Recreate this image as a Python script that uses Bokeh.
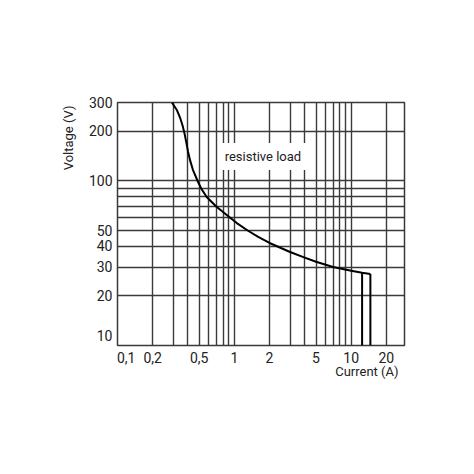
from bokeh.plotting import figure
from bokeh.models import FixedTicker, CustomJSTickFormatter, Label, Title
from bokeh.embed import file_html
from bokeh.resources import INLINE

# Data
current = [0.292, 0.323, 0.345, 0.362, 0.376, 0.389, 0.402, 0.42, 0.442, 0.485, 0.52, 0.58, 0.70, 0.85,
           1.05, 1.3, 1.6, 2.0, 3.0, 4.0, 5.0, 7.0, 10.0, 12.4, 14.6]
voltage = [300, 269, 240, 215, 192, 170, 150, 132, 117, 100, 90, 80, 70, 62.5,
           55.5, 50, 45.8, 42, 37, 34.2, 32.3, 30.0, 28.5, 27.7, 27.2]
drop1_x = [12.4, 12.4]
drop1_y = [27.7, 10]
drop2_x = [14.6, 14.6]
drop2_y = [27.2, 10]

x_ticks = [0.1, 0.2, 0.5, 1, 2, 5, 10, 20]
y_ticks = [10, 20, 30, 40, 50, 100, 200, 300]
x_grid = [0.1, 0.2, 0.3, 0.4, 0.5, 0.6, 0.7, 0.8, 0.9, 1, 2, 3, 4, 5, 6, 7, 8, 9, 10, 20]
y_grid = [10, 20, 30, 40, 50, 60, 70, 80, 90, 100, 200, 300]

FONT = "Roboto"
GRID = "#3a3a3a"
TXT = "#222222"

p = figure(width=466, height=466, x_axis_type="log", y_axis_type="log",
           x_range=(0.1, 28.6), y_range=(10, 300),
           output_backend="svg", toolbar_location=None,
           min_border_left=117, min_border_right=62, min_border_top=102, min_border_bottom=121)

p.outline_line_color = GRID
p.outline_line_width = 1.5
p.background_fill_color = "white"

for ax, ticks in ((p.xaxis[0], x_ticks), (p.yaxis[0], y_ticks)):
    ax.ticker = FixedTicker(ticks=ticks)
    ax.axis_line_color = None
    ax.major_tick_line_color = None
    ax.minor_tick_line_color = None
    ax.major_tick_out = 0
    ax.major_tick_in = 0
    ax.minor_tick_out = 0
    ax.minor_tick_in = 0
    ax.major_label_text_font = FONT
    ax.major_label_text_font_size = "14px"
    ax.major_label_text_color = TXT

p.xaxis[0].formatter = CustomJSTickFormatter(code="""
if (tick < 0.15) return '\\u00a0\\u00a0\\u00a0\\u00a0\\u00a00,1';
return tick < 1 ? tick.toFixed(1).replace('.', ',') : tick.toFixed(0);
""")
p.yaxis[0].formatter = CustomJSTickFormatter(code="""
if (tick < 15) return '10\\n\\u00a0';
return tick.toFixed(0);
""")

p.xaxis.major_label_standoff = 4
p.yaxis.major_label_standoff = 5

p.xgrid.ticker = FixedTicker(ticks=x_grid)
p.ygrid.ticker = FixedTicker(ticks=y_grid)
for g in (p.xgrid[0], p.ygrid[0]):
    g.grid_line_color = GRID
    g.grid_line_width = 1.4
    g.grid_line_alpha = 1.0

p.line(current, voltage, line_color="black", line_width=2, line_join="round")
p.line(drop1_x, drop1_y, line_color="black", line_width=2)
p.line(drop2_x, drop2_y, line_color="black", line_width=2)

p.add_layout(Label(x=1.755, y=141, text="resistive load", text_align="center", text_baseline="middle",
                   text_font=FONT, text_font_size="13px", text_color=TXT, padding=6,
                   background_fill_color="white", background_fill_alpha=1.0))

p.add_layout(Title(text="Voltage (V)", align="right", offset=3, standoff=20,
                   text_font=FONT, text_font_size="13px", text_font_style="normal",
                   text_color=TXT), "left")
p.add_layout(Title(text="Current (A)", align="right", vertical_align="top", offset=6, standoff=-10,
                   text_font=FONT, text_font_size="13px", text_font_style="normal",
                   text_color=TXT), "below")

open("out.html", "w").write(file_html(p, INLINE))
